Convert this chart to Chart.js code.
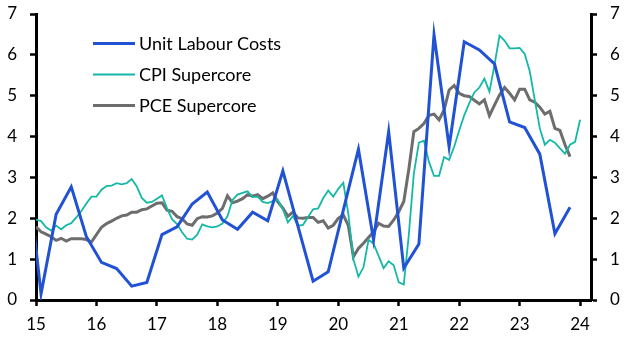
<!DOCTYPE html>
<html><head><meta charset="utf-8">
<script src="https://cdn.jsdelivr.net/npm/chart.js@4.4.1/dist/chart.umd.min.js"></script>
<style>html,body{margin:0;padding:0;background:#fff;}canvas{display:block;}</style>
</head><body>
<canvas id="c" width="632" height="357"></canvas>
<script>
// ---- data ----
const seriesNames = ['Unit Labour Costs', 'CPI Supercore', 'PCE Supercore'];

// quarterly ULC, plotted at mid-quarter
const ulcQuarters = ['14Q4',
 '15Q1','15Q2','15Q3','15Q4','16Q1','16Q2','16Q3','16Q4',
 '17Q1','17Q2','17Q3','17Q4','18Q1','18Q2','18Q3','18Q4',
 '19Q1','19Q2','19Q3','19Q4','20Q1','20Q2','20Q3','20Q4',
 '21Q1','21Q2','21Q3','21Q4','22Q1','22Q2','22Q3','22Q4',
 '23Q1','23Q2','23Q3','23Q4'];
const ulcValues = [3.5,
 0.15, 2.10, 2.77, 1.55, 0.92, 0.77, 0.34, 0.43,
 1.60, 1.79, 2.35, 2.64, 1.96, 1.73, 2.15, 1.94,
 3.16, 1.80, 0.46, 0.69, 2.20, 3.69, 1.47, 4.12,
 0.78, 1.37, 6.49, 3.75, 6.32, 6.12, 5.78, 4.36,
 4.22, 3.57, 1.62, 2.27];

// monthly series, first month Jan 2015
const monthlyStart = '15-01';
const cpiValues = [
 1.97,1.93,1.78,1.70,1.82,1.73,1.83,1.88,2.02,2.18,2.36,2.53,
 2.53,2.70,2.79,2.80,2.86,2.83,2.86,2.96,2.78,2.50,2.38,2.40,
 2.48,2.56,2.25,1.98,1.86,1.66,1.50,1.48,1.60,1.85,1.80,1.78,
 1.80,1.87,2.05,2.45,2.58,2.62,2.66,2.52,2.53,2.40,2.37,2.42,
 2.45,2.22,1.90,2.06,1.82,1.84,2.03,2.22,2.24,2.49,2.68,2.53,
 2.72,2.87,2.10,1.00,0.57,0.80,1.47,1.38,1.08,0.78,0.95,0.85,
 0.43,0.38,1.60,3.10,3.85,3.90,3.38,3.04,3.04,3.50,3.43,3.75,
 4.15,4.52,4.82,5.08,5.20,5.42,5.10,5.75,6.47,6.35,6.16,6.16,
 6.17,6.02,5.60,4.90,4.20,3.80,3.92,3.85,3.71,3.58,3.80,3.87,
 4.41];
const pceValues = [
 1.79,1.67,1.61,1.55,1.46,1.51,1.44,1.50,1.50,1.50,1.48,1.42,
 1.60,1.78,1.87,1.93,2.00,2.06,2.08,2.15,2.15,2.21,2.23,2.30,
 2.37,2.38,2.20,2.17,2.04,1.99,1.86,1.83,1.99,2.04,2.03,2.06,
 2.13,2.24,2.55,2.38,2.42,2.48,2.58,2.54,2.58,2.48,2.54,2.62,
 2.40,2.25,2.05,2.15,2.01,2.00,2.02,2.02,1.90,1.94,1.76,1.83,
 2.00,2.08,1.82,1.06,1.26,1.39,1.53,1.67,1.88,1.81,1.80,1.96,
 2.16,2.41,3.20,4.12,4.20,4.32,4.52,4.55,4.41,4.65,5.14,5.25,
 5.06,5.00,4.98,4.89,4.80,4.90,4.51,4.77,5.02,5.20,5.06,4.90,
 5.16,5.16,4.90,4.84,4.72,4.55,4.62,4.20,4.15,3.80,3.51];

const xTickValues = [15,16,17,18,19,20,21,22,23,24];
const xTickLabels = ['15','16','17','18','19','20','21','22','23','24'];

// ---- helpers (dates -> decimal year positions) ----
function quarterPos(q){ const yy = +q.slice(0,2), n = +q.slice(3); return yy + ((n-1)*3 + 1)/12; }
function monthPos(start, i){ const yy = +start.slice(0,2), mm = +start.slice(3); return yy + (mm-1+i)/12; }

const ulcData = ulcQuarters.map((q,i)=>({x: quarterPos(q), y: ulcValues[i]}));
const cpiData = cpiValues.map((v,i)=>({x: monthPos(monthlyStart,i), y: v}));
const pceData = pceValues.map((v,i)=>({x: monthPos(monthlyStart,i), y: v}));

const FONT = 'Lato';
const tickFont = {family: FONT, size: 17};

const legendPlugin = {
  id: 'insideLegend',
  afterDatasetsDraw(chart){
    const {ctx, chartArea} = chart;
    ctx.save();
    ctx.font = '18px ' + FONT;
    ctx.textBaseline = 'middle';
    ctx.textAlign = 'left';
    const widths = [3, 2, 3];
    chart.data.datasets.forEach((ds, i) => {
      const y = chartArea.top + 29.5 + i * 31;
      const x0 = chartArea.left + 57;
      ctx.strokeStyle = ds.borderColor;
      ctx.lineWidth = widths[i];
      ctx.beginPath(); ctx.moveTo(x0, y); ctx.lineTo(x0 + 42, y); ctx.stroke();
      ctx.fillStyle = '#000';
      ctx.fillText(ds.label, x0 + 46, y + 1);
    });
    ctx.restore();
  }
};

const gridOpts = {display: true, drawOnChartArea: false, drawTicks: true, tickLength: 6, tickWidth: 2.5, tickColor: '#000'};
const borderOpts = {display: true, color: '#000', width: 3};
function noPad(s){ s.paddingTop = 0; s.paddingBottom = 0; s.paddingLeft = 0; s.paddingRight = 0; }

new Chart(document.getElementById('c'), {
  type: 'line',
  data: {
    datasets: [
      {label: seriesNames[0], data: ulcData, borderColor: '#2152d4', borderWidth: 3, pointRadius: 0, tension: 0, yAxisID: 'y'},
      {label: seriesNames[1], data: cpiData, borderColor: '#14b8a6', borderWidth: 1.8, pointRadius: 0, tension: 0, yAxisID: 'y'},
      {label: seriesNames[2], data: pceData, borderColor: '#6d6d6d', borderWidth: 3, pointRadius: 0, tension: 0, yAxisID: 'y'}
    ]
  },
  options: {
    responsive: false,
    animation: false,
    devicePixelRatio: 1,
    layout: {padding: {top: 14, left: 0, right: 0, bottom: 0}},
    plugins: {legend: {display: false}, tooltip: {enabled: false}},
    scales: {
      x: {
        type: 'linear', min: 15, max: 24.18,
        afterBuildTicks(s){ s.ticks = xTickValues.map(v => ({value: v})); },
        ticks: {color: '#000', font: tickFont, padding: 8, maxRotation: 0, callback: (v, i) => xTickLabels[i]},
        grid: gridOpts, border: borderOpts,
        afterFit(s){ s.height = 57; noPad(s); }
      },
      y: {
        position: 'left', min: 0, max: 7,
        ticks: {stepSize: 1, color: '#000', font: tickFont, padding: 13},
        grid: gridOpts, border: borderOpts,
        afterFit(s){ s.width = 36; noPad(s); }
      },
      y2: {
        position: 'right', min: 0, max: 7,
        ticks: {stepSize: 1, color: '#000', font: tickFont, padding: 13},
        grid: gridOpts, border: borderOpts,
        afterFit(s){ s.width = 41; noPad(s); }
      }
    }
  },
  plugins: [legendPlugin]
});
</script>
</body></html>
